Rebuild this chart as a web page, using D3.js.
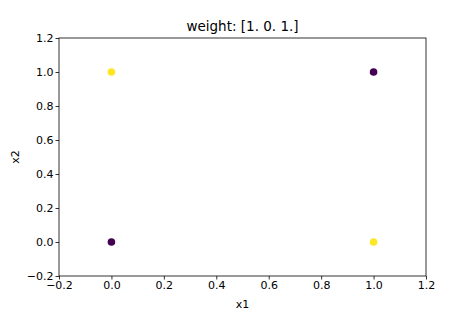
<!DOCTYPE html>
<html>
<head>
<meta charset="utf-8">
<script src="https://cdn.jsdelivr.net/npm/d3@7"></script>
<style>
  body { margin: 0; background: #fff; }
  text { font-family: "DejaVu Sans", sans-serif; fill: #000; }
</style>
</head>
<body>
<div id="chart"></div>
<script>
const width = 474;
const height = 316;

// XOR inputs and their labels
const x1Values = [0, 0, 1, 1];
const x2Values = [0, 1, 0, 1];
const labels = [0, 1, 1, 0];
const weight = [1, 0, 1];
const tickValues = [-0.2, 0.0, 0.2, 0.4, 0.6, 0.8, 1.0, 1.2];

const margin = {top: 38, right: 48, bottom: 40, left: 59};
const innerW = width - margin.left - margin.right;
const innerH = height - margin.top - margin.bottom;

const svg = d3.select("#chart")
    .append("svg")
    .attr("width", width)
    .attr("height", height);

const g = svg.append("g")
    .attr("transform", `translate(${margin.left},${margin.top})`);

const x = d3.scaleLinear().domain([-0.2, 1.2]).range([0, innerW]);
const y = d3.scaleLinear().domain([-0.2, 1.2]).range([innerH, 0]);
const color = d3.scaleOrdinal().domain([0, 1]).range(["#440154", "#fde725"]);

// Axes
const xAxis = g.append("g")
    .attr("transform", `translate(0,${innerH})`)
    .call(d3.axisBottom(x).tickValues(tickValues).tickFormat(d3.format(".1f")).tickSize(3.5).tickPadding(2));
const yAxis = g.append("g")
    .call(d3.axisLeft(y).tickValues(tickValues).tickFormat(d3.format(".1f")).tickSize(3.5).tickPadding(2));

[xAxis, yAxis].forEach(a => {
    a.select(".domain").remove();
    a.selectAll("line").attr("stroke", "#000").attr("stroke-width", 0.8);
    a.selectAll("text").attr("font-size", 11).attr("font-family", "DejaVu Sans");
});

// Frame
g.append("rect")
    .attr("width", innerW)
    .attr("height", innerH)
    .attr("fill", "none")
    .attr("stroke", "#000")
    .attr("stroke-width", 0.8);

// Points
g.selectAll(".dot")
    .data(x1Values.map((d, i) => ({x1: d, x2: x2Values[i], c: labels[i]})))
    .enter()
    .append("circle")
    .attr("class", "dot")
    .attr("cx", d => x(d.x1))
    .attr("cy", d => y(d.x2))
    .attr("r", 3.8)
    .attr("fill", d => color(d.c));

// Labels
svg.append("text")
    .attr("x", margin.left + innerW / 2)
    .attr("y", margin.top - 7)
    .attr("text-anchor", "middle")
    .attr("font-size", 13.5)
    .text(`weight: [${weight.map(w => w + ".").join(" ")}]`);

svg.append("text")
    .attr("x", margin.left + innerW / 2)
    .attr("y", height - 8)
    .attr("text-anchor", "middle")
    .attr("font-size", 11)
    .text("x1");

svg.append("text")
    .attr("transform", `translate(19,${margin.top + innerH / 2}) rotate(-90)`)
    .attr("text-anchor", "middle")
    .attr("font-size", 11)
    .text("x2");
</script>
</body>
</html>
